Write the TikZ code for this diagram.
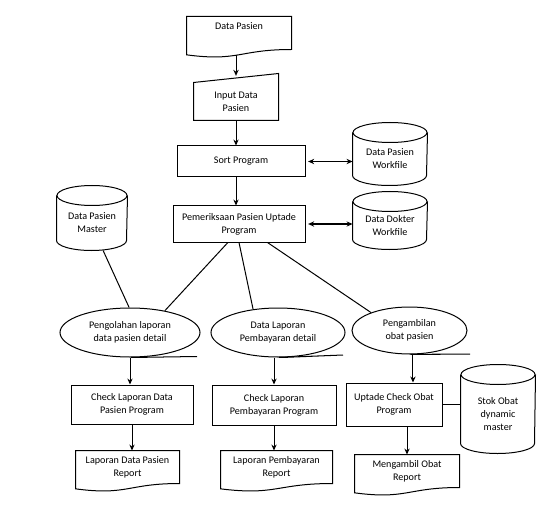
\documentclass[tikz,border=0pt]{standalone}
\usepackage{fontspec}
\setmainfont{Carlito}
\usetikzlibrary{shapes.geometric,arrows.meta}

\begin{document}
\begin{tikzpicture}[x=0.75pt,y=0.75pt,line width=0.75pt,>={Stealth[length=4.5pt,width=4pt]},
  every node/.style={font=\fontsize{7.6}{9.8}\selectfont,align=center,inner sep=0pt},
  procbox/.style={draw,rectangle},
  docnode/.style={rectangle,minimum height=24pt},
  cannode/.style={rectangle},
  ovalnode/.style={draw,ellipse}]
\useasboundingbox (0,0) rectangle (556,-527);

% main column
\node[docnode,minimum width=78pt] (dp) at (239,-33) {Data Pasien\\[1pt]\mbox{}};
\node[minimum width=63pt,minimum height=27.75pt] (in) at (236,-101.5) {Input Data\\Pasien};
\draw (in.south west) -- (in.north west) -- ([yshift=6.75pt]in.north east) -- (in.south east) -- cycle;
\node[procbox,minimum width=96pt,minimum height=23.25pt] (sort) at (241,-161.5) {Sort Program};
\node[procbox,minimum width=99pt,minimum height=27pt] (periksa) at (239,-224) {Pemeriksaan Pasien Uptade\\Program};

% files
\node[cannode,minimum width=55.5pt,minimum height=39pt] (wf1) at (390,-159) {Data Pasien\\Workfile};
\node[cannode,minimum width=55.5pt,minimum height=35.25pt] (wf2) at (390,-225.5) {Data Dokter\\Workfile};
\node[cannode,minimum width=52.5pt,minimum height=40.5pt] (master) at (92,-223) {Data Pasien\\Master};
\node[cannode,minimum width=55.5pt,minimum height=58.5pt] (stok) at (498,-414) {Stok Obat\\dynamic\\master};

% processes
\node[ovalnode,minimum width=105pt,minimum height=36.75pt] (e1) at (130,-332.5) {Pengolahan laporan\\data pasien detail};
\node[ovalnode,minimum width=100.5pt,minimum height=36.75pt] (e2) at (278,-332.5) {Data Laporan\\Pembayaran detail};
\node[ovalnode,minimum width=86.25pt,minimum height=35.25pt] (e3) at (409.5,-330.5) {Pengambilan\\obat pasien};
\coordinate (t1) at (197,-356.5);
\coordinate (t2) at (343,-355);
\coordinate (t3) at (470,-354);

\node[procbox,minimum width=91.5pt,minimum height=29.25pt] (cekdp) at (132,-404.5) {Check Laporan Data\\Pasien Program};
\node[procbox,minimum width=93pt,minimum height=30pt] (cekpb) at (274,-405) {Check Laporan\\Pembayaran Program};
\node[procbox,minimum width=72pt,minimum height=32.25pt] (cekobat) at (394,-404.5) {Uptade Check Obat\\Program};

% reports
\node[docnode,minimum width=77.25pt] (lapdp) at (127.5,-467) {Laporan Data Pasien\\Report};
\node[docnode,minimum width=83.25pt] (lappb) at (276.5,-467) {Laporan Pembayaran\\Report};
\node[docnode,minimum width=78pt] (ambil) at (407,-471) {Mengambil Obat\\Report};

% outlines
\foreach \n in {dp,lapdp,lappb,ambil}
  \draw (\n.north west) -- (\n.north east) -- (\n.south east)
    .. controls (\n.south) and ([yshift=-9.2pt]\n.south) .. ([yshift=-4pt]\n.south west) -- cycle;
\foreach \n/\r in {wf1/27.75pt,wf2/27.75pt,master/26.25pt,stok/27.75pt}{
  \draw (\n.north west) -- ([yshift=7.5pt]\n.south west)
    arc[start angle=180,end angle=360,x radius=\r,y radius=7.5pt] -- (\n.north east);
  \draw (\n.north) ellipse[x radius=\r,y radius=7.5pt];
}
\foreach \e/\t in {e1/t1,e2/t2,e3/t3}
  \draw (\e.-88) -- (\t) -- (\e.-75);

% connectors
\draw[->] ([yshift=-4pt]in.north |- dp.south) -- ([yshift=5pt]in.north);
\draw[->] (in.south) -- (in.south |- sort.north);
\draw[->] (in.south |- sort.south) -- (in.south |- periksa.north);
\draw[<->] ([xshift=2pt]sort.east) -- (sort.east -| wf1.west);
\draw[<->] ([xshift=2pt]periksa.east) -- (periksa.east -| wf2.west);
\draw (master.-68) -- (e1.92);
\draw (periksa.-121) -- (e1.32);
\draw (periksa.south) -- (e2.137);
\draw (periksa.-33) -- (e3.155);
\draw[->] (e1.south) -- (e1.south |- cekdp.north);
\draw[->] (cekdp.south) -- (cekdp.south |- lapdp.north);
\draw[->] (cekpb.north |- e2.south) -- (cekpb.north);
\draw[->] (cekpb.south) -- (cekpb.south |- lappb.north);
\draw[->] ([xshift=2.6pt]e3.south) -- ([xshift=2.6pt]e3.south |- cekobat.north);
\draw[->] (ambil.north |- cekobat.south) -- (ambil.north);
\draw (cekobat.east) -- (cekobat.east -| stok.west);
\end{tikzpicture}
\end{document}
